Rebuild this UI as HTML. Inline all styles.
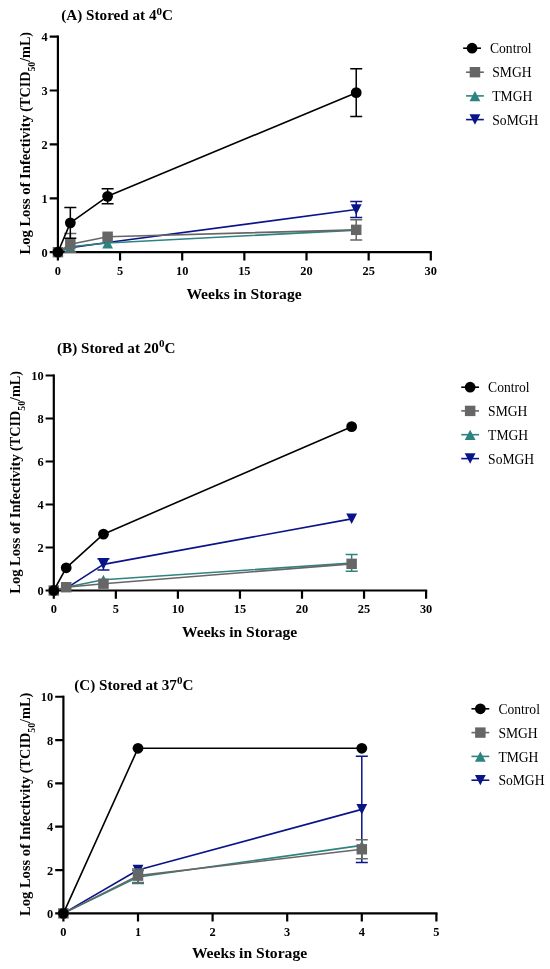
<!DOCTYPE html>
<html lang="en"><head><meta charset="utf-8"><title>Log Loss of Infectivity vs Weeks in Storage</title>
<style>html,body{margin:0;padding:0;background:#fff}body{width:550px;height:969px;overflow:hidden}svg{display:block}</style></head><body>
<svg width="550" height="969" viewBox="0 0 550 969">
<rect width="550" height="969" fill="#fff"/>
<!-- Chart A -->
<text x="61.3" y="20.1" font-family="Liberation Serif, serif" font-weight="bold" font-size="15.15" fill="#000000">(A) Stored at 4<tspan font-size="11" dy="-5.6">0</tspan><tspan dy="5.6">C</tspan></text>
<g stroke="#000000" stroke-width="2.2" fill="none">
<path d="M57.9 35.5V253.3"/>
<path d="M56.8 252.2H431.9"/>
<path d="M57.9 252.2v8.2M120.05 252.2v8.2M182.2 252.2v8.2M244.35 252.2v8.2M306.5 252.2v8.2M368.65 252.2v8.2M430.8 252.2v8.2M57.9 252.2h-8.2M57.9 198.3h-8.2M57.9 144.4h-8.2M57.9 90.5h-8.2M57.9 36.6h-8.2"/>
</g>
<g font-family="Liberation Serif, serif" font-weight="bold" font-size="12.9" fill="#000000">
<g text-anchor="middle">
<text transform="translate(57.9 274.9) scale(.96 1)">0</text>
<text transform="translate(120.05 274.9) scale(.96 1)">5</text>
<text transform="translate(182.2 274.9) scale(.96 1)">10</text>
<text transform="translate(244.35 274.9) scale(.96 1)">15</text>
<text transform="translate(306.5 274.9) scale(.96 1)">20</text>
<text transform="translate(368.65 274.9) scale(.96 1)">25</text>
<text transform="translate(430.8 274.9) scale(.96 1)">30</text>
</g><g text-anchor="end">
<text transform="translate(47.7 256.9) scale(.96 1)">0</text>
<text transform="translate(47.7 203) scale(.96 1)">1</text>
<text transform="translate(47.7 149.1) scale(.96 1)">2</text>
<text transform="translate(47.7 95.2) scale(.96 1)">3</text>
<text transform="translate(47.7 41.3) scale(.96 1)">4</text>
</g></g>
<g>
<path d="M57.9 252.2L70.33 247.62L107.62 242.5L356.22 209.57" stroke="#0a1489" stroke-width="1.6" fill="none" stroke-linejoin="round"/>
<path d="M356.22 201.59V217.54M350.22 201.59h12M350.22 217.54h12" stroke="#0a1489" stroke-width="1.5" fill="none"/>
<path d="M350.82 204.27H361.62L356.22 214.67Z" fill="#0a1489"/>
</g>
<g>
<path d="M57.9 252.2L70.33 246.81L107.62 243.04L356.22 230.1" stroke="#2d8380" stroke-width="1.6" fill="none" stroke-linejoin="round"/>
<path d="M64.93 252.21H75.73L70.33 241.91Z" fill="#2d8380"/>
<path d="M102.22 248.44H113.02L107.62 238.14Z" fill="#2d8380"/>
</g>
<g>
<path d="M57.9 252.2L70.33 244.22L107.62 236.73L356.22 229.83" stroke="#666666" stroke-width="1.6" fill="none" stroke-linejoin="round"/>
<path d="M70.33 233.44V252.2M64.33 233.44h12M64.33 252.2h12M356.22 219.75V239.91M350.22 219.75h12M350.22 239.91h12" stroke="#666666" stroke-width="1.5" fill="none"/>
<rect x="52.65" y="247" width="10.5" height="10.4" fill="#666666"/>
<rect x="65.08" y="239.02" width="10.5" height="10.4" fill="#666666"/>
<rect x="102.37" y="231.53" width="10.5" height="10.4" fill="#666666"/>
<rect x="350.97" y="224.63" width="10.5" height="10.4" fill="#666666"/>
</g>
<g>
<path d="M57.9 252.2L70.33 222.82L107.62 196.31L356.22 92.66" stroke="#000000" stroke-width="1.6" fill="none" stroke-linejoin="round"/>
<path d="M70.33 207.46V238.19M64.33 207.46h12M64.33 238.19h12M107.62 188.76V203.85M101.62 188.76h12M101.62 203.85h12M356.22 68.83V116.48M350.22 68.83h12M350.22 116.48h12" stroke="#000000" stroke-width="1.5" fill="none"/>
<circle cx="57.9" cy="252.2" r="5.4" fill="#000000"/>
<circle cx="70.33" cy="222.82" r="5.4" fill="#000000"/>
<circle cx="107.62" cy="196.31" r="5.4" fill="#000000"/>
<circle cx="356.22" cy="92.66" r="5.4" fill="#000000"/>
</g>
<text x="244" y="299.2" text-anchor="middle" font-family="Liberation Serif, serif" font-weight="bold" font-size="15.6" fill="#000000">Weeks in Storage</text>
<g transform="translate(29.8 254.5) rotate(-90)" font-family="Liberation Serif, serif" font-weight="bold" font-size="15.4" fill="#000000">
<text x="0" y="0" textLength="139.5" lengthAdjust="spacingAndGlyphs">Log Loss of Infectivity</text>
<text x="142.8" y="0" textLength="79.8" lengthAdjust="spacingAndGlyphs">(TCID<tspan font-size="10.6" dy="5.4">50</tspan><tspan dy="-5.4">/mL)</tspan></text>
</g>
<g font-family="Liberation Serif, serif" font-size="13.6" fill="#000000">
<path d="M463.15 48.2h17.8" stroke="#000000" stroke-width="1.6"/>
<circle cx="472.05" cy="48.2" r="5.4" fill="#000000"/>
<text x="490" y="53.4">Control</text>
<path d="M466.05 72.2h17.8" stroke="#666666" stroke-width="1.6"/>
<rect x="469.7" y="67" width="10.5" height="10.4" fill="#666666"/>
<text x="492.32" y="77.4">SMGH</text>
<path d="M466.05 95.9h17.8" stroke="#2d8380" stroke-width="1.6"/>
<path d="M469.55 101.3H480.35L474.95 91Z" fill="#2d8380"/>
<text x="492.32" y="101.1">TMGH</text>
<path d="M466.05 119.6h17.8" stroke="#0a1489" stroke-width="1.6"/>
<path d="M469.55 114.3H480.35L474.95 124.7Z" fill="#0a1489"/>
<text x="492.32" y="124.8">SoMGH</text>
</g>
<!-- Chart B -->
<text x="57" y="352.8" font-family="Liberation Serif, serif" font-weight="bold" font-size="15.15" fill="#000000">(B) Stored at 20<tspan font-size="11" dy="-5.6">0</tspan><tspan dy="5.6">C</tspan></text>
<g stroke="#000000" stroke-width="2.2" fill="none">
<path d="M53.8 374.4V591.6"/>
<path d="M52.7 590.5H427.2"/>
<path d="M53.8 590.5v8.2M115.85 590.5v8.2M177.9 590.5v8.2M239.95 590.5v8.2M302 590.5v8.2M364.05 590.5v8.2M426.1 590.5v8.2M53.8 590.5h-8.2M53.8 547.5h-8.2M53.8 504.5h-8.2M53.8 461.5h-8.2M53.8 418.5h-8.2M53.8 375.5h-8.2"/>
</g>
<g font-family="Liberation Serif, serif" font-weight="bold" font-size="12.9" fill="#000000">
<g text-anchor="middle">
<text transform="translate(53.8 613.2) scale(.96 1)">0</text>
<text transform="translate(115.85 613.2) scale(.96 1)">5</text>
<text transform="translate(177.9 613.2) scale(.96 1)">10</text>
<text transform="translate(239.95 613.2) scale(.96 1)">15</text>
<text transform="translate(302 613.2) scale(.96 1)">20</text>
<text transform="translate(364.05 613.2) scale(.96 1)">25</text>
<text transform="translate(426.1 613.2) scale(.96 1)">30</text>
</g><g text-anchor="end">
<text transform="translate(43.6 595.2) scale(.96 1)">0</text>
<text transform="translate(43.6 552.2) scale(.96 1)">2</text>
<text transform="translate(43.6 509.2) scale(.96 1)">4</text>
<text transform="translate(43.6 466.2) scale(.96 1)">6</text>
<text transform="translate(43.6 423.2) scale(.96 1)">8</text>
<text transform="translate(43.6 380.2) scale(.96 1)">10</text>
</g></g>
<g>
<path d="M53.8 590.5L66.21 588.35L103.44 564.4L351.64 518.9" stroke="#0a1489" stroke-width="1.6" fill="none" stroke-linejoin="round"/>
<path d="M103.44 558.81V569.99M97.44 558.81h12M97.44 569.99h12" stroke="#0a1489" stroke-width="1.5" fill="none"/>
<path d="M98.04 559.1H108.84L103.44 569.5Z" fill="#0a1489"/>
<path d="M346.24 513.61H357.04L351.64 524Z" fill="#0a1489"/>
</g>
<g>
<path d="M53.8 590.5L66.21 587.27L103.44 579.75L351.64 562.98" stroke="#2d8380" stroke-width="1.6" fill="none" stroke-linejoin="round"/>
<path d="M351.64 554.6V571.37M345.64 554.6h12M345.64 571.37h12" stroke="#2d8380" stroke-width="1.5" fill="none"/>
<path d="M98.04 585.15H108.84L103.44 574.85Z" fill="#2d8380"/>
</g>
<g>
<path d="M53.8 590.5L66.21 587.21L103.44 583.71L351.64 563.84" stroke="#666666" stroke-width="1.6" fill="none" stroke-linejoin="round"/>
<rect x="48.55" y="585.3" width="10.5" height="10.4" fill="#666666"/>
<rect x="60.96" y="582.01" width="10.5" height="10.4" fill="#666666"/>
<rect x="98.19" y="578.51" width="10.5" height="10.4" fill="#666666"/>
<rect x="346.39" y="558.64" width="10.5" height="10.4" fill="#666666"/>
</g>
<g>
<path d="M53.8 590.5L66.21 567.8L103.44 534.17L351.64 426.67" stroke="#000000" stroke-width="1.6" fill="none" stroke-linejoin="round"/>
<circle cx="53.8" cy="590.5" r="5.4" fill="#000000"/>
<circle cx="66.21" cy="567.8" r="5.4" fill="#000000"/>
<circle cx="103.44" cy="534.17" r="5.4" fill="#000000"/>
<circle cx="351.64" cy="426.67" r="5.4" fill="#000000"/>
</g>
<text x="239.6" y="636.9" text-anchor="middle" font-family="Liberation Serif, serif" font-weight="bold" font-size="15.6" fill="#000000">Weeks in Storage</text>
<g transform="translate(19.5 593.8) rotate(-90)" font-family="Liberation Serif, serif" font-weight="bold" font-size="15.4" fill="#000000">
<text x="0" y="0" textLength="139.5" lengthAdjust="spacingAndGlyphs">Log Loss of Infectivity</text>
<text x="142.8" y="0" textLength="80.1" lengthAdjust="spacingAndGlyphs">(TCID<tspan font-size="10.6" dy="5.4">50</tspan><tspan dy="-5.4">/mL)</tspan></text>
</g>
<g font-family="Liberation Serif, serif" font-size="13.6" fill="#000000">
<path d="M461.25 387.2h17.8" stroke="#000000" stroke-width="1.6"/>
<circle cx="470.15" cy="387.2" r="5.4" fill="#000000"/>
<text x="488.1" y="392.4">Control</text>
<path d="M461.25 410.9h17.8" stroke="#666666" stroke-width="1.6"/>
<rect x="464.9" y="405.7" width="10.5" height="10.4" fill="#666666"/>
<text x="488.1" y="416.1">SMGH</text>
<path d="M461.25 434.7h17.8" stroke="#2d8380" stroke-width="1.6"/>
<path d="M464.75 440.1H475.55L470.15 429.8Z" fill="#2d8380"/>
<text x="488.1" y="439.9">TMGH</text>
<path d="M461.25 458.6h17.8" stroke="#0a1489" stroke-width="1.6"/>
<path d="M464.75 453.3H475.55L470.15 463.7Z" fill="#0a1489"/>
<text x="488.1" y="463.8">SoMGH</text>
</g>
<!-- Chart C -->
<text x="74.2" y="689.7" font-family="Liberation Serif, serif" font-weight="bold" font-size="15.15" fill="#000000">(C) Stored at 37<tspan font-size="11" dy="-5.6">0</tspan><tspan dy="5.6">C</tspan></text>
<g stroke="#000000" stroke-width="2.2" fill="none">
<path d="M63.4 695.65V914.45"/>
<path d="M62.3 913.35H437.5"/>
<path d="M63.4 913.35v8.2M138 913.35v8.2M212.6 913.35v8.2M287.2 913.35v8.2M361.8 913.35v8.2M436.4 913.35v8.2M63.4 913.35h-8.2M63.4 870.03h-8.2M63.4 826.71h-8.2M63.4 783.39h-8.2M63.4 740.07h-8.2M63.4 696.75h-8.2"/>
</g>
<g font-family="Liberation Serif, serif" font-weight="bold" font-size="12.9" fill="#000000">
<g text-anchor="middle">
<text transform="translate(63.4 936.05) scale(.96 1)">0</text>
<text transform="translate(138 936.05) scale(.96 1)">1</text>
<text transform="translate(212.6 936.05) scale(.96 1)">2</text>
<text transform="translate(287.2 936.05) scale(.96 1)">3</text>
<text transform="translate(361.8 936.05) scale(.96 1)">4</text>
<text transform="translate(436.4 936.05) scale(.96 1)">5</text>
</g><g text-anchor="end">
<text transform="translate(53.2 918.05) scale(.96 1)">0</text>
<text transform="translate(53.2 874.73) scale(.96 1)">2</text>
<text transform="translate(53.2 831.41) scale(.96 1)">4</text>
<text transform="translate(53.2 788.09) scale(.96 1)">6</text>
<text transform="translate(53.2 744.77) scale(.96 1)">8</text>
<text transform="translate(53.2 701.45) scale(.96 1)">10</text>
</g></g>
<g>
<path d="M63.4 913.35L138 870.03L361.8 809.38" stroke="#0a1489" stroke-width="1.6" fill="none" stroke-linejoin="round"/>
<path d="M361.8 756.32V862.45M355.8 756.32h12M355.8 862.45h12" stroke="#0a1489" stroke-width="1.5" fill="none"/>
<path d="M132.6 864.73H143.4L138 875.13Z" fill="#0a1489"/>
<path d="M356.4 804.08H367.2L361.8 814.48Z" fill="#0a1489"/>
</g>
<g>
<path d="M63.4 913.35L138 876.96L361.8 845.34" stroke="#2d8380" stroke-width="1.6" fill="none" stroke-linejoin="round"/>
<path d="M138 870.46V883.46M132 870.46h12M132 883.46h12" stroke="#2d8380" stroke-width="1.5" fill="none"/>
<path d="M356.4 850.74H367.2L361.8 840.44Z" fill="#2d8380"/>
</g>
<g>
<path d="M63.4 913.35L138 875.66L361.8 849.3" stroke="#666666" stroke-width="1.6" fill="none" stroke-linejoin="round"/>
<path d="M138 868.95V882.38M132 868.95h12M132 882.38h12M361.8 839.84V858.77M355.8 839.84h12M355.8 858.77h12" stroke="#666666" stroke-width="1.5" fill="none"/>
<rect x="58.15" y="908.15" width="10.5" height="10.4" fill="#666666"/>
<rect x="132.75" y="870.46" width="10.5" height="10.4" fill="#666666"/>
<rect x="356.55" y="844.1" width="10.5" height="10.4" fill="#666666"/>
</g>
<g>
<path d="M63.4 913.35L138 748.3L361.8 748.3" stroke="#000000" stroke-width="1.6" fill="none" stroke-linejoin="round"/>
<circle cx="63.4" cy="913.35" r="5.4" fill="#000000"/>
<circle cx="138" cy="748.3" r="5.4" fill="#000000"/>
<circle cx="361.8" cy="748.3" r="5.4" fill="#000000"/>
</g>
<text x="249.5" y="958.3" text-anchor="middle" font-family="Liberation Serif, serif" font-weight="bold" font-size="15.6" fill="#000000">Weeks in Storage</text>
<g transform="translate(29.7 916) rotate(-90)" font-family="Liberation Serif, serif" font-weight="bold" font-size="15.4" fill="#000000">
<text x="0" y="0" textLength="139.5" lengthAdjust="spacingAndGlyphs">Log Loss of Infectivity</text>
<text x="142.8" y="0" textLength="80.5" lengthAdjust="spacingAndGlyphs">(TCID<tspan font-size="10.6" dy="5.4">50</tspan><tspan dy="-5.4">/mL)</tspan></text>
</g>
<g font-family="Liberation Serif, serif" font-size="13.6" fill="#000000">
<path d="M471.45 708.8h17.8" stroke="#000000" stroke-width="1.6"/>
<circle cx="480.35" cy="708.8" r="5.4" fill="#000000"/>
<text x="498.4" y="714">Control</text>
<path d="M471.45 732.6h17.8" stroke="#666666" stroke-width="1.6"/>
<rect x="475.1" y="727.4" width="10.5" height="10.4" fill="#666666"/>
<text x="498.4" y="737.8">SMGH</text>
<path d="M471.45 756.4h17.8" stroke="#2d8380" stroke-width="1.6"/>
<path d="M474.95 761.8H485.75L480.35 751.5Z" fill="#2d8380"/>
<text x="498.4" y="761.6">TMGH</text>
<path d="M471.45 780.2h17.8" stroke="#0a1489" stroke-width="1.6"/>
<path d="M474.95 774.9H485.75L480.35 785.3Z" fill="#0a1489"/>
<text x="498.4" y="785.4">SoMGH</text>
</g>
</svg></body></html>
